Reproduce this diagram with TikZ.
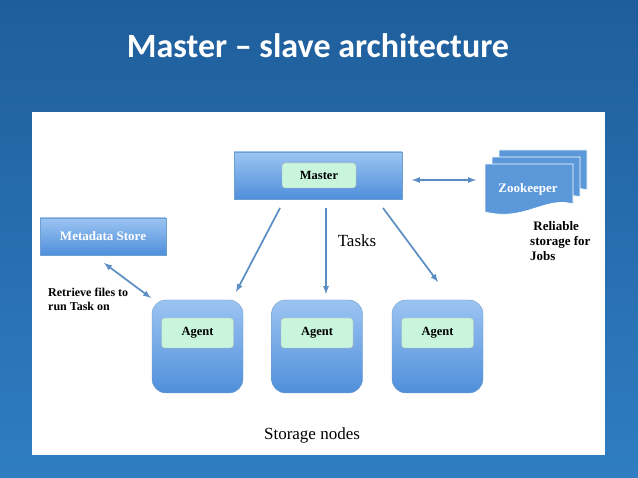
\documentclass[tikz,border=0pt]{standalone}
\usepackage{fontspec}
\setmainfont{Liberation Serif}
\newfontfamily\titlefont{Carlito}
\definecolor{bgA}{HTML}{1F5E9C}
\definecolor{bgB}{HTML}{2F7DC2}
\definecolor{bxA}{HTML}{9CC4F2}
\definecolor{bxB}{HTML}{4F8FDB}
\definecolor{bxL}{HTML}{6E9FCF}
\definecolor{grn}{HTML}{C8F5DC}
\definecolor{arc}{HTML}{5B8EC4}
\definecolor{zk}{HTML}{5A98DA}
\begin{document}
\begin{tikzpicture}[x=1pt,y=-1pt,
  blk/.style={draw=bxL,top color=bxA,bottom color=bxB,inner sep=0},
  inn/.style={draw=gray!60,fill=grn,rounded corners=3pt,font=\fontsize{12.5}{14}\selectfont\bfseries},
  arr/.style={draw=arc,line width=1.7pt,-latex},
  lbl/.style={align=left,font=\fontsize{13}{15}\selectfont\bfseries,inner sep=0,anchor=north west},
  zdoc/.style={fill=zk,draw=white,line width=0.8pt}]
\useasboundingbox (0,0) rectangle (638,478);
\shade[top color=bgA,bottom color=bgB] (0,0) rectangle (638,478);
\node[text=white,font=\titlefont\bfseries\fontsize{34}{38}\selectfont] (title) at (318,46) {Master – slave architecture};
\fill[white] (32,112) rectangle (605,455);
% master
\node[blk,minimum width=168pt,minimum height=47pt] (mb) at (318,175.5) {};
\node[inn,minimum width=74pt,minimum height=25pt] (master) at (319,175.5) {Master};
% zookeeper stacked documents
\foreach \d in {14,7,0}{
  \path[zdoc] (485+\d,164-\d) -- (573+\d,164-\d) -- (573+\d,204-\d)
     .. controls (545+\d,196-\d) and (525+\d,222-\d) .. (485+\d,212-\d) -- cycle;}
\node[text=white,font=\fontsize{13}{15}\selectfont\bfseries] (zkt) at (528,189) {Zookeeper};
\coordinate (m1) at (412,180); \coordinate (z1) at (476,180);
\draw[arr,latex-latex] (m1) -- (z1);
% metadata
\node[blk,minimum width=126pt,minimum height=37pt,text=white,font=\fontsize{13}{15}\selectfont\bfseries] (meta) at (103,236.5) {Metadata Store};
% agents
\foreach \i/\x in {1/197.5,2/317,3/437.5}{
  \node[blk,rounded corners=14pt,minimum width=91pt,minimum height=93pt] (ab\i) at (\x,346.5) {};
  \node[inn,minimum width=72pt,minimum height=30pt] (ag\i) at (\x,333) {Agent};
}
\coordinate (s1) at (280,208); \coordinate (s2) at (326,208); \coordinate (s3) at (383,208);
\draw[arr] (s1) -- (236,292);
\draw[arr] (s2) -- (326,294);
\draw[arr] (s3) -- (438,282);
\coordinate (r1) at (104,263); \coordinate (r2) at (151,298);
\draw[arr,latex-latex] (r1) -- (r2);
\node[font=\fontsize{17}{19}\selectfont] (tasks) at (357,241) {Tasks};
\node[lbl] (rel) at (530,221) {\ Reliable\\storage for\\Jobs};
\node[lbl,font=\fontsize{12}{14}\selectfont\bfseries] (ret) at (48,288) {Retrieve files to\\run Task on};
\node[font=\fontsize{17}{19}\selectfont] (sn) at (312,435) {Storage nodes};
\end{tikzpicture}
\end{document}
